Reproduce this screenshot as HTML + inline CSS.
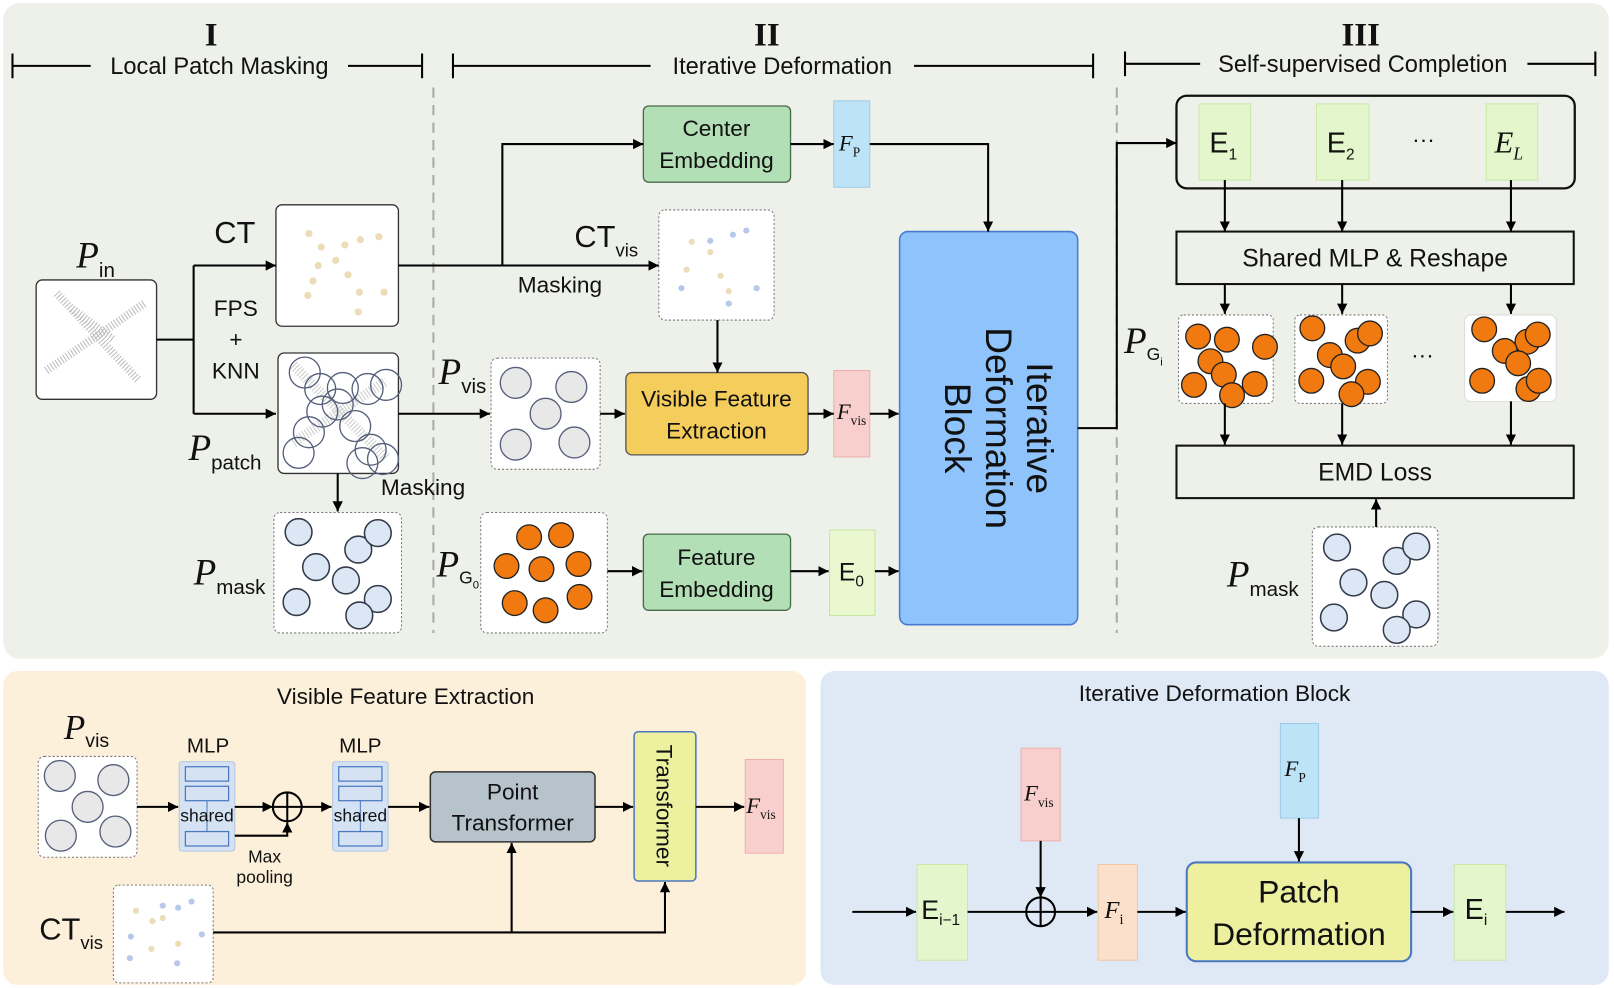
<!DOCTYPE html>
<html><head><meta charset="utf-8"><style>
html,body{margin:0;padding:0;background:#fff;}
svg{display:block;}
text{font-family:"Liberation Sans",sans-serif;fill:#111;}
.s{font-family:"Liberation Serif",serif;font-style:italic;}
</style></head><body>
<svg width="1614" height="988" viewBox="0 0 1568 960" xmlns="http://www.w3.org/2000/svg">
<defs>
<marker id="a" viewBox="0 0 10 10" refX="10" refY="5" markerWidth="10" markerHeight="10" markerUnits="userSpaceOnUse" orient="auto"><path d="M0,0L10,5L0,10z" fill="#000"/></marker>
<g id="blue"><circle r="13" fill="#dce7f5" stroke="#333a4a" stroke-width="1.5"/></g>
<g id="or"><circle r="12" fill="#f07a10" stroke="#222" stroke-width="1.3"/></g>
<g id="ring"><circle r="15" fill="none" stroke="#56607a" stroke-width="1.3"/></g>
<g id="vring"><circle r="15" fill="#e8e8e8" stroke="#56607a" stroke-width="1.3"/></g>
</defs>
<rect x="3" y="3" width="1560" height="637" rx="16" fill="#edf1ea"/>
<rect x="3" y="652" width="780" height="305" rx="14" fill="#fdf0da"/>
<rect x="797" y="652" width="766" height="305" rx="14" fill="#dfe9f5"/>

<g stroke="#000" stroke-width="2" fill="none">
<path d="M12,64H88M338,64H410M12,52V76M410,52V76"/>
<path d="M440,64H632M888,64H1062M440,52V76M1062,52V76"/>
<path d="M1093,62H1166M1484,62H1550M1093,50V74M1550,50V74"/>
</g>
<g font-weight="bold" font-size="32" text-anchor="middle">
<text x="205" y="44" style="font-family:'Liberation Serif',serif">I</text>
<text x="745" y="44" style="font-family:'Liberation Serif',serif">II</text>
<text x="1322" y="44" style="font-family:'Liberation Serif',serif">III</text>
</g>
<g font-size="23" text-anchor="middle">
<text x="213" y="72">Local Patch Masking</text>
<text x="760" y="72">Iterative Deformation</text>
<text x="1324" y="70">Self-supervised Completion</text>
</g>
<path d="M421,85V615M1085,85V615" stroke="#aaa" stroke-width="2" stroke-dasharray="10,7"/>

<rect x="35" y="272" width="117" height="116" rx="6" fill="#fff" stroke="#333" stroke-width="1.3"/>
<path d="M55,285L135,370M45,360L140,295M70,300L110,330" stroke="#bbb" stroke-width="8" stroke-dasharray="1,2"/>
<rect x="268" y="199" width="119" height="118" rx="6" fill="#fff" stroke="#333" stroke-width="1.3"/>
<g fill="#ecdcb8"><circle cx="300" cy="227" r="3.5"/><circle cx="312" cy="240" r="3.5"/><circle cx="335" cy="238" r="3.5"/><circle cx="350" cy="233" r="3.5"/><circle cx="368" cy="230" r="3.5"/><circle cx="309" cy="258" r="3.5"/><circle cx="326" cy="253" r="3.5"/><circle cx="304" cy="273" r="3.5"/><circle cx="338" cy="267" r="3.5"/><circle cx="299" cy="287" r="3.5"/><circle cx="349" cy="284" r="3.5"/><circle cx="373" cy="284" r="3.5"/><circle cx="348" cy="303" r="3.5"/></g>
<rect x="270" y="343" width="117" height="117" rx="6" fill="#fff" stroke="#333" stroke-width="1.3"/>
<path d="M285,355L375,445M285,430L375,370" stroke="#ccc" stroke-width="10" stroke-dasharray="1,2"/>
<use href="#ring" x="296" y="362"/><use href="#ring" x="311" y="378"/><use href="#ring" x="333" y="377"/><use href="#ring" x="357" y="378"/><use href="#ring" x="375" y="374"/><use href="#ring" x="313" y="400"/><use href="#ring" x="328" y="393"/><use href="#ring" x="300" y="420"/><use href="#ring" x="345" y="414"/><use href="#ring" x="290" y="440"/><use href="#ring" x="360" y="437"/><use href="#ring" x="372" y="446"/><use href="#ring" x="352" y="450"/>
<rect x="266" y="498" width="124" height="117" rx="6" fill="#fff" stroke="#777" stroke-dasharray="2,2"/>
<use href="#blue" x="290" y="517"/><use href="#blue" x="348" y="534"/><use href="#blue" x="367" y="518"/><use href="#blue" x="307" y="551"/><use href="#blue" x="336" y="564"/><use href="#blue" x="288" y="585"/><use href="#blue" x="367" y="582"/><use href="#blue" x="349" y="598"/>

<rect x="640" y="204" width="112" height="107" rx="6" fill="#fff" stroke="#777" stroke-dasharray="2,2"/>
<g fill="#ecdcb8"><circle cx="672" cy="235" r="3"/><circle cx="690" cy="245" r="3"/><circle cx="667" cy="262" r="3"/><circle cx="700" cy="268" r="3"/><circle cx="708" cy="283" r="3"/></g>
<g fill="#b8c8ea"><circle cx="712" cy="228" r="3"/><circle cx="725" cy="224" r="3"/><circle cx="690" cy="234" r="3"/><circle cx="662" cy="280" r="3"/><circle cx="735" cy="280" r="3"/><circle cx="708" cy="295" r="3"/></g>
<rect x="477" y="348" width="106" height="108" rx="6" fill="#fff" stroke="#777" stroke-dasharray="2,2"/>
<use href="#vring" x="501" y="372"/><use href="#vring" x="555" y="376"/><use href="#vring" x="530" y="402"/><use href="#vring" x="501" y="432"/><use href="#vring" x="558" y="430"/>
<rect x="467" y="498" width="123" height="117" rx="6" fill="#fff" stroke="#777" stroke-dasharray="2,2"/>
<use href="#or" x="514" y="522"/><use href="#or" x="545" y="520"/><use href="#or" x="492" y="550"/><use href="#or" x="526" y="553"/><use href="#or" x="562" y="548"/><use href="#or" x="500" y="586"/><use href="#or" x="530" y="593"/><use href="#or" x="563" y="580"/>

<rect x="625" y="103" width="143" height="74" rx="5" fill="#b3dfb6" stroke="#4a6a4d" stroke-width="1.3"/>
<text x="696" y="132" font-size="22" text-anchor="middle">Center</text><text x="696" y="163" font-size="22" text-anchor="middle">Embedding</text>
<rect x="810" y="98" width="35" height="84" fill="#bde3f7" stroke="#a0cce8"/>
<text x="815" y="146" font-size="22" class="s">F<tspan font-size="13" font-style="normal" dy="6">P</tspan></text>
<rect x="608" y="362" width="177" height="80" rx="6" fill="#f4cd5c" stroke="#555" stroke-width="1.3"/>
<text x="696" y="395" font-size="22" text-anchor="middle">Visible Feature</text><text x="696" y="426" font-size="22" text-anchor="middle">Extraction</text>
<rect x="810" y="360" width="35" height="84" fill="#f8cfcd" stroke="#eeb0ad"/>
<text x="813" y="407" font-size="22" class="s">F<tspan font-size="13" font-style="normal" dy="6">vis</tspan></text>
<rect x="625" y="519" width="143" height="74" rx="5" fill="#b3dfb6" stroke="#4a6a4d" stroke-width="1.3"/>
<text x="696" y="549" font-size="22" text-anchor="middle">Feature</text><text x="696" y="580" font-size="22" text-anchor="middle">Embedding</text>
<rect x="806" y="515" width="44" height="83" fill="#e9f8cf" stroke="#c6e4a4"/>
<text x="815" y="564" font-size="24">E<tspan font-size="15" dy="6">0</tspan></text>
<rect x="874" y="225" width="173" height="382" rx="8" fill="#8fc3fb" stroke="#4a7ad0" stroke-width="1.5"/>
<g transform="translate(960,416) rotate(90)" font-size="36" text-anchor="middle">
<text x="0" y="-38">Iterative</text><text x="0" y="2">Deformation</text><text x="0" y="42">Block</text></g>

<text x="74" y="260" font-size="36" class="s">P<tspan font-size="20" font-style="normal" font-family="Liberation Sans" dy="9">in</tspan></text>
<text x="228" y="236" font-size="30" text-anchor="middle">CT</text>
<text x="229" y="307" font-size="22" text-anchor="middle">FPS</text><text x="229" y="337" font-size="22" text-anchor="middle">+</text><text x="229" y="368" font-size="22" text-anchor="middle">KNN</text>
<text x="183" y="447" font-size="36" class="s">P<tspan font-size="20" font-style="normal" font-family="Liberation Sans" dy="9">patch</tspan></text>
<text x="370" y="481" font-size="22">Masking</text>
<text x="188" y="568" font-size="36" class="s">P<tspan font-size="20" font-style="normal" font-family="Liberation Sans" dy="9">mask</tspan></text>
<text x="426" y="373" font-size="36" class="s">P<tspan font-size="20" font-style="normal" font-family="Liberation Sans" dy="9">vis</tspan></text>
<text x="424" y="560" font-size="36" class="s">P<tspan font-size="17" font-style="normal" font-family="Liberation Sans" dy="7">G</tspan><tspan font-size="11" font-family="Liberation Sans" font-style="normal" dy="5">0</tspan></text>
<text x="558" y="240" font-size="30">CT<tspan font-size="18" dy="9">vis</tspan></text>
<text x="503" y="284" font-size="22">Masking</text>

<rect x="1143" y="93" width="387" height="90" rx="10" fill="none" stroke="#111" stroke-width="2.2"/>
<g fill="#e4f7cc" stroke="#c9e8a8"><rect x="1165" y="101" width="50" height="74"/><rect x="1279" y="101" width="51" height="74"/><rect x="1444" y="101" width="50" height="74"/></g>
<text x="1175" y="148" font-size="28">E<tspan font-size="15" dy="7">1</tspan></text>
<text x="1289" y="148" font-size="28">E<tspan font-size="15" dy="7">2</tspan></text>
<text x="1383" y="143" font-size="22" text-anchor="middle">···</text>
<text x="1452" y="148" font-size="30" class="s">E<tspan font-size="17" dy="7">L</tspan></text>
<rect x="1143" y="225" width="386" height="51" fill="none" stroke="#111" stroke-width="2"/>
<text x="1336" y="259" font-size="24" text-anchor="middle">Shared MLP &amp; Reshape</text>
<rect x="1145" y="306" width="92" height="86" rx="5" fill="#fff" stroke="#777" stroke-dasharray="2,2"/>
<rect x="1258" y="306" width="90" height="86" rx="5" fill="#fff" stroke="#777" stroke-dasharray="2,2"/>
<rect x="1423" y="306" width="89" height="84" rx="6" fill="#fff" stroke="#ddd"/>
<use href="#or" x="1164" y="327"/><use href="#or" x="1192" y="330"/><use href="#or" x="1229" y="337"/><use href="#or" x="1176" y="351"/><use href="#or" x="1189" y="364"/><use href="#or" x="1160" y="374"/><use href="#or" x="1219" y="373"/><use href="#or" x="1197" y="384"/>
<use href="#or" x="1275" y="319"/><use href="#or" x="1319" y="331"/><use href="#or" x="1331" y="324"/><use href="#or" x="1292" y="345"/><use href="#or" x="1305" y="356"/><use href="#or" x="1274" y="370"/><use href="#or" x="1329" y="371"/><use href="#or" x="1313" y="383"/>
<use href="#or" x="1442" y="320"/><use href="#or" x="1484" y="332"/><use href="#or" x="1494" y="325"/><use href="#or" x="1462" y="341"/><use href="#or" x="1475" y="353"/><use href="#or" x="1440" y="370"/><use href="#or" x="1485" y="378"/><use href="#or" x="1495" y="370"/>
<text x="1382" y="352" font-size="22" text-anchor="middle">···</text>
<text x="1092" y="343" font-size="36" class="s">P<tspan font-size="17" font-style="normal" font-family="Liberation Sans" dy="7">G</tspan><tspan font-size="11" font-family="Liberation Sans" font-style="normal" dy="5">i</tspan></text>
<rect x="1143" y="433" width="386" height="51" fill="none" stroke="#111" stroke-width="2"/>
<text x="1336" y="467" font-size="24" text-anchor="middle">EMD Loss</text>
<rect x="1275" y="512" width="122" height="116" rx="6" fill="#fff" stroke="#777" stroke-dasharray="2,2"/>
<use href="#blue" x="1299" y="532"/><use href="#blue" x="1357" y="545"/><use href="#blue" x="1376" y="531"/><use href="#blue" x="1315" y="566"/><use href="#blue" x="1345" y="578"/><use href="#blue" x="1296" y="600"/><use href="#blue" x="1376" y="597"/><use href="#blue" x="1357" y="612"/>
<text x="1192" y="570" font-size="36" class="s">P<tspan font-size="20" font-style="normal" font-family="Liberation Sans" dy="9">mask</tspan></text>

<g stroke="#000" stroke-width="2" fill="none">
<path d="M152,330H188M188,258V402"/>
<path d="M188,258H268" marker-end="url(#a)"/>
<path d="M188,402H268" marker-end="url(#a)"/>
<path d="M328,460V497" marker-end="url(#a)"/>
<path d="M387,258H640" marker-end="url(#a)"/>
<path d="M488,258V140H625" marker-end="url(#a)"/>
<path d="M768,140H810" marker-end="url(#a)"/>
<path d="M845,140H960V225" marker-end="url(#a)"/>
<path d="M697,311V362" marker-end="url(#a)"/>
<path d="M387,402H476" marker-end="url(#a)"/>
<path d="M583,402H607" marker-end="url(#a)"/>
<path d="M785,402H810" marker-end="url(#a)"/>
<path d="M845,402H873" marker-end="url(#a)"/>
<path d="M590,555H624" marker-end="url(#a)"/>
<path d="M768,555H805" marker-end="url(#a)"/>
<path d="M850,555H873" marker-end="url(#a)"/>
<path d="M1047,416H1085V139H1143" marker-end="url(#a)"/>
<path d="M1190,175V225" marker-end="url(#a)"/>
<path d="M1304,175V225" marker-end="url(#a)"/>
<path d="M1468,175V225" marker-end="url(#a)"/>
<path d="M1190,276V305" marker-end="url(#a)"/>
<path d="M1304,276V305" marker-end="url(#a)"/>
<path d="M1468,276V305" marker-end="url(#a)"/>
<path d="M1190,392V432" marker-end="url(#a)"/>
<path d="M1304,392V432" marker-end="url(#a)"/>
<path d="M1468,390V432" marker-end="url(#a)"/>
<path d="M1337,512V485" marker-end="url(#a)"/>
</g>

<text x="394" y="684" font-size="22" text-anchor="middle">Visible Feature Extraction</text>
<text x="62" y="718" font-size="34" class="s">P<tspan font-size="19" font-style="normal" font-family="Liberation Sans" dy="8">vis</tspan></text>
<rect x="37" y="735" width="96" height="98" rx="6" fill="#fff" stroke="#777" stroke-dasharray="2,2"/>
<use href="#vring" x="58" y="754"/><use href="#vring" x="110" y="758"/><use href="#vring" x="85" y="784"/><use href="#vring" x="59" y="812"/><use href="#vring" x="112" y="808"/>
<g font-size="20" text-anchor="middle"><text x="202" y="731">MLP</text><text x="350" y="731">MLP</text></g>
<g fill="#d4e2f3" stroke="#b5c8e0"><rect x="174" y="740" width="54" height="87" rx="3"/><rect x="323" y="740" width="54" height="87" rx="3"/></g>
<g fill="#d4e2f3" stroke="#4a78c0" stroke-width="1.2">
<rect x="180" y="745" width="42" height="14"/><rect x="180" y="764" width="42" height="14"/><rect x="180" y="808" width="42" height="14"/>
<rect x="329" y="745" width="42" height="14"/><rect x="329" y="764" width="42" height="14"/><rect x="329" y="808" width="42" height="14"/></g>
<path d="M201,778V808M350,778V808" stroke="#4a78c0"/>
<g font-size="17" text-anchor="middle"><text x="201" y="798">shared</text><text x="350" y="798">shared</text></g>
<circle cx="279" cy="784" r="14" fill="none" stroke="#000" stroke-width="2"/><path d="M265,784H293M279,770V798" stroke="#000" stroke-width="2"/>
<text x="257" y="838" font-size="17" text-anchor="middle">Max</text><text x="257" y="858" font-size="17" text-anchor="middle">pooling</text>
<rect x="418" y="750" width="160" height="68" rx="5" fill="#b6c3cb" stroke="#333" stroke-width="1.5"/>
<text x="498" y="777" font-size="22" text-anchor="middle">Point</text><text x="498" y="807" font-size="22" text-anchor="middle">Transformer</text>
<rect x="616" y="711" width="60" height="145" rx="4" fill="#edf09e" stroke="#4a78c0" stroke-width="1.5"/>
<text transform="translate(638,783) rotate(90)" font-size="22" text-anchor="middle">Transformer</text>
<rect x="724" y="738" width="37" height="91" fill="#f8cfcd" stroke="#eeb0ad"/>
<text x="725" y="790" font-size="22" class="s">F<tspan font-size="13" font-style="normal" dy="6">vis</tspan></text>
<text x="38" y="913" font-size="30">CT<tspan font-size="18" dy="9">vis</tspan></text>
<rect x="110" y="860" width="97" height="95" rx="5" fill="#fff" stroke="#777" stroke-dasharray="2,2"/>
<g fill="#ecdcb8"><circle cx="132" cy="885" r="3"/><circle cx="148" cy="895" r="3"/><circle cx="158" cy="892" r="3"/><circle cx="173" cy="917" r="3"/><circle cx="147" cy="922" r="3"/></g>
<g fill="#b8c8ea"><circle cx="173" cy="882" r="3"/><circle cx="186" cy="876" r="3"/><circle cx="158" cy="880" r="3"/><circle cx="127" cy="910" r="3"/><circle cx="196" cy="908" r="3"/><circle cx="172" cy="936" r="3"/><circle cx="126" cy="931" r="3"/></g>
<g stroke="#000" stroke-width="2" fill="none">
<path d="M133,784H173" marker-end="url(#a)"/>
<path d="M228,784H265" marker-end="url(#a)"/>
<path d="M228,812H279V799" marker-end="url(#a)"/>
<path d="M293,784H322" marker-end="url(#a)"/>
<path d="M377,784H417" marker-end="url(#a)"/>
<path d="M578,784H615" marker-end="url(#a)"/>
<path d="M676,784H723" marker-end="url(#a)"/>
<path d="M207,906H646V857" marker-end="url(#a)"/>
<path d="M497,906V819" marker-end="url(#a)"/>
</g>

<text x="1180" y="681" font-size="22" text-anchor="middle">Iterative Deformation Block</text>
<rect x="992" y="727" width="38" height="90" fill="#f8cfcd" stroke="#eeb0ad"/>
<text x="995" y="778" font-size="22" class="s">F<tspan font-size="13" font-style="normal" dy="6">vis</tspan></text>
<rect x="1244" y="703" width="37" height="92" fill="#bde3f7" stroke="#a0cce8"/>
<text x="1248" y="754" font-size="22" class="s">F<tspan font-size="13" font-style="normal" dy="6">P</tspan></text>
<rect x="891" y="840" width="49" height="93" fill="#e4f7cc" stroke="#c9e8a8"/>
<text x="895" y="893" font-size="26">E<tspan font-size="15" dy="6">i−1</tspan></text>
<circle cx="1011" cy="886" r="14" fill="none" stroke="#000" stroke-width="2"/><path d="M997,886H1025M1011,872V900" stroke="#000" stroke-width="2"/>
<rect x="1067" y="840" width="38" height="93" fill="#fbe0cb" stroke="#f0c8a8"/>
<text x="1073" y="892" font-size="24" class="s">F<tspan font-size="14" font-style="normal" dy="6">i</tspan></text>
<rect x="1153" y="838" width="218" height="96" rx="9" fill="#edf09e" stroke="#4a78c0" stroke-width="2"/>
<text x="1262" y="877" font-size="31" text-anchor="middle">Patch</text><text x="1262" y="918" font-size="31" text-anchor="middle">Deformation</text>
<rect x="1413" y="840" width="50" height="93" fill="#e4f7cc" stroke="#c9e8a8"/>
<text x="1423" y="893" font-size="28">E<tspan font-size="15" dy="6">i</tspan></text>
<g stroke="#000" stroke-width="2" fill="none">
<path d="M828,886H890" marker-end="url(#a)"/>
<path d="M940,886H997"/>
<path d="M1011,817V872" marker-end="url(#a)"/>
<path d="M1025,886H1066" marker-end="url(#a)"/>
<path d="M1105,886H1152" marker-end="url(#a)"/>
<path d="M1262,795V837" marker-end="url(#a)"/>
<path d="M1371,886H1412" marker-end="url(#a)"/>
<path d="M1463,886H1520" marker-end="url(#a)"/>
</g>
</svg>
</body></html>
